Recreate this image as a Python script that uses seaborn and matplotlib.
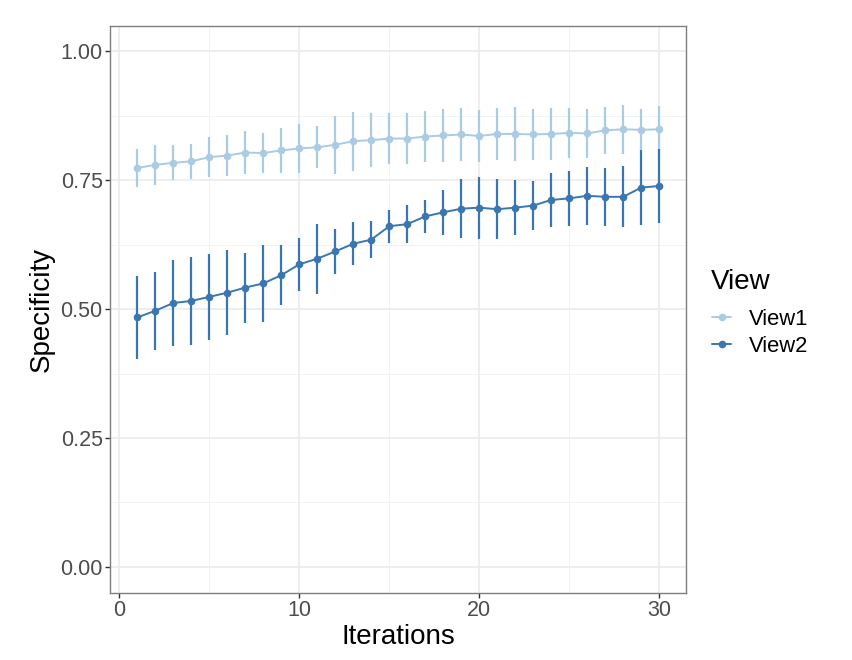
import matplotlib
matplotlib.use("Agg")
import matplotlib.pyplot as plt
import numpy as np
import pandas as pd
import seaborn as sns

iterations = list(range(1, 31))
view1_mean = [0.774, 0.780, 0.784, 0.787, 0.795, 0.798, 0.804, 0.803, 0.808, 0.812,
              0.814, 0.819, 0.826, 0.828, 0.831, 0.831, 0.835, 0.837, 0.839, 0.836,
              0.840, 0.840, 0.839, 0.840, 0.842, 0.841, 0.847, 0.849, 0.848, 0.849]
view1_err = [0.037, 0.039, 0.034, 0.034, 0.039, 0.040, 0.041, 0.039, 0.044, 0.048,
             0.041, 0.056, 0.057, 0.053, 0.049, 0.049, 0.050, 0.052, 0.052, 0.050,
             0.051, 0.053, 0.050, 0.051, 0.049, 0.048, 0.046, 0.048, 0.040, 0.045]
view2_mean = [0.484, 0.497, 0.512, 0.516, 0.524, 0.532, 0.542, 0.550, 0.566, 0.587,
              0.598, 0.612, 0.627, 0.635, 0.661, 0.665, 0.680, 0.688, 0.695, 0.697,
              0.694, 0.697, 0.701, 0.712, 0.715, 0.720, 0.718, 0.718, 0.736, 0.739]
view2_err = [0.080, 0.076, 0.084, 0.085, 0.084, 0.082, 0.068, 0.075, 0.058, 0.051,
             0.068, 0.043, 0.042, 0.036, 0.032, 0.037, 0.032, 0.044, 0.057, 0.060,
             0.058, 0.054, 0.048, 0.053, 0.054, 0.056, 0.056, 0.059, 0.072, 0.071]
views = ["View1", "View2"]
colors = {"View1": "#A9CBE3", "View2": "#3A76AF"}
y_ticks = [0.00, 0.25, 0.50, 0.75, 1.00]
y_tick_labels = ["0.00", "0.25", "0.50", "0.75", "1.00"]
x_ticks = [0, 10, 20, 30]

df = pd.DataFrame({
    "Iterations": iterations * 2,
    "Specificity": view1_mean + view2_mean,
    "err": view1_err + view2_err,
    "View": ["View1"] * 30 + ["View2"] * 30,
})

sns.set_theme(style="white")
plt.rcParams['font.family'] = ['Liberation Sans', 'DejaVu Sans']

fig = plt.figure(figsize=(8.52, 6.6), dpi=100)
ax = fig.add_axes([110.3 / 852, 1 - 592.7 / 660, (685.7 - 110.3) / 852, (592.7 - 25.7) / 660])

# grid
for v in [0.125, 0.375, 0.625, 0.875]:
    ax.axhline(v, color="#F2F2F2", lw=0.7, zorder=0)
for v in [5, 15, 25]:
    ax.axvline(v, color="#F2F2F2", lw=0.7, zorder=0)
for v in y_ticks:
    ax.axhline(v, color="#EBEBEB", lw=1.2, zorder=0)
for v in x_ticks:
    ax.axvline(v, color="#EBEBEB", lw=1.2, zorder=0)

for v in views:
    sub = df[df["View"] == v]
    ax.vlines(sub["Iterations"], sub["Specificity"] - sub["err"], sub["Specificity"] + sub["err"],
              color=colors[v], lw=1.6, zorder=2)

sns.lineplot(data=df, x="Iterations", y="Specificity", hue="View", palette=colors,
             marker="o", markersize=5.5, markeredgewidth=0, lw=1.4, ax=ax, zorder=3)

ax.set_xlim(-0.5, 31.47)
ax.set_ylim(-0.05, 1.05)
ax.set_xticks(x_ticks)
ax.set_yticks(y_ticks)
ax.set_yticklabels(y_tick_labels)
ax.tick_params(axis="both", which="major", length=3.5, width=1, color="#333333",
               labelsize=15.5, labelcolor="#4D4D4D", pad=2, left=True, bottom=True)
for s in ax.spines.values():
    s.set_color("#7F7F7F")
    s.set_linewidth(1.0)
ax.set_xlabel("Iterations", fontsize=20, color="black", labelpad=2)
ax.set_ylabel("Specificity", fontsize=20, color="black", labelpad=4)

ax.get_legend().remove()
handles, labels = ax.get_legend_handles_labels()
fig.text(710.7 / 852, 1 - 289 / 660, "View", fontsize=20, color="black",
         ha="left", va="baseline")
leg = fig.legend(handles, labels, loc="upper left",
                 bbox_to_anchor=(711.7 / 852, 1 - 309 / 660), frameon=False,
                 fontsize=15.8, handlelength=0.9, handletextpad=0.8,
                 labelspacing=0.28, borderpad=0, borderaxespad=0, labelcolor="black")

fig.savefig("out.png", dpi=100)
